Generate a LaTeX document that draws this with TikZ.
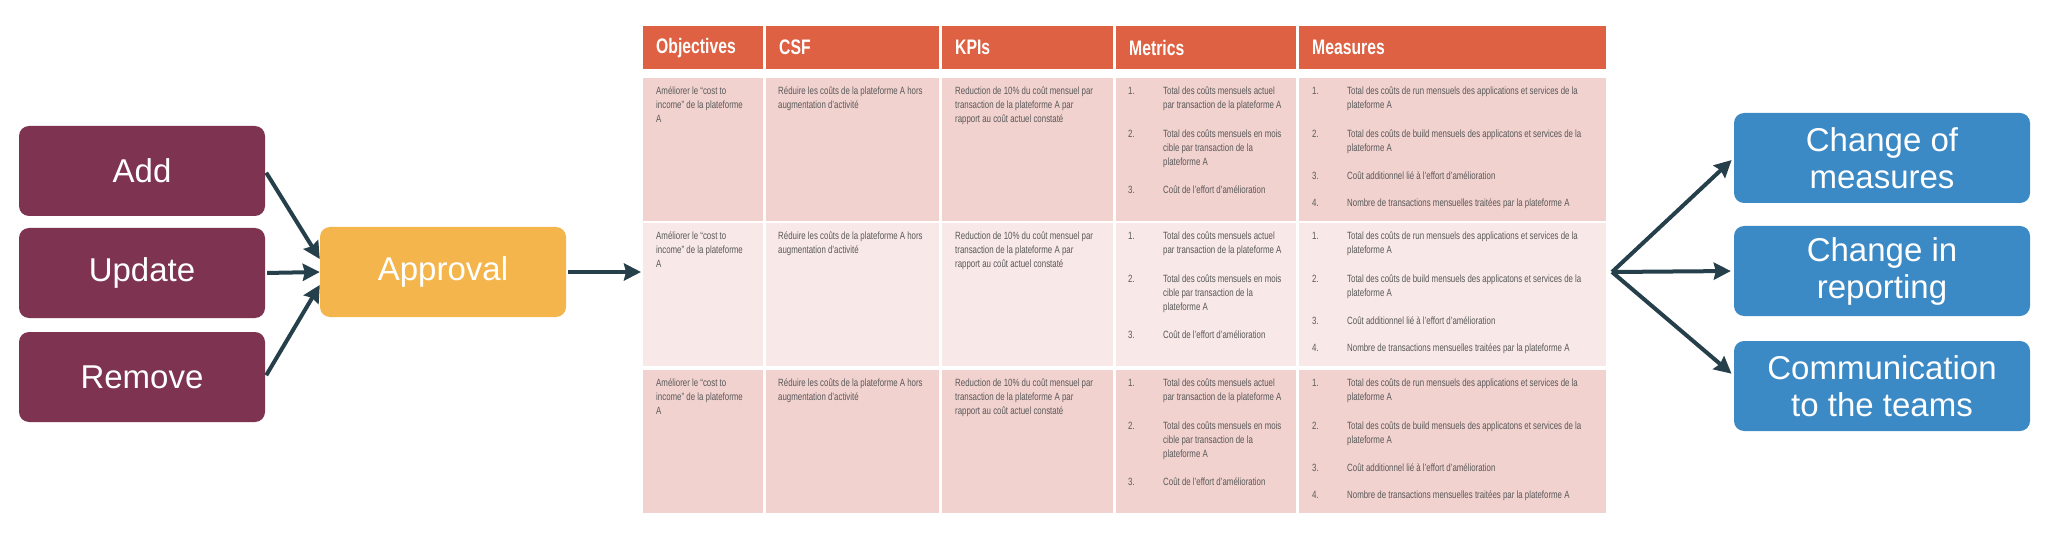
\documentclass[tikz,border=0pt]{standalone}
\usepackage{fontspec}
\setmainfont{Liberation Sans}
\newfontfamily\narrowfont[FakeStretch=0.75]{Liberation Sans}
\usetikzlibrary{arrows.meta}
\definecolor{addcol}{HTML}{7E3350}
\definecolor{okcol}{HTML}{F4B64C}
\definecolor{outcol}{HTML}{3B89C5}
\definecolor{headcol}{HTML}{DD6142}
\definecolor{rowa}{HTML}{F1D2CF}
\definecolor{rowb}{HTML}{F8E8E7}
\definecolor{arrcol}{HTML}{253F4B}
\begin{document}
\begin{tikzpicture}[x=1pt,y=-1pt,>={Stealth[length=17pt,width=17pt,inset=2pt]}]
\tikzstyle{box}=[rounded corners=10pt,minimum width=246pt,minimum height=90pt,inner sep=0pt,align=center,text=white,font=\fontsize{33}{37}\selectfont]
\tikzstyle{link}=[->,line width=4pt,draw=arrcol]
\tikzstyle{head}=[fill=headcol,minimum height=43pt,anchor=north west,inner sep=0pt]
\tikzstyle{headtext}=[anchor=west,inner sep=0pt,text=white,font=\narrowfont\bfseries\fontsize{21}{25}\selectfont]
\tikzstyle{cell}=[minimum height=143pt,anchor=north west,inner sep=0pt]
\tikzstyle{small}=[anchor=north west,align=left,inner sep=0pt,text=black!65,font=\narrowfont\fontsize{10.5}{14}\selectfont]
    \useasboundingbox (0,0) rectangle (2048,548);
    \node[box,fill=addcol] (add) at (142,171) {Add};
    \node[box,fill=addcol] (update) at (142,273) {Update};
    \node[box,fill=addcol] (remove) at (142,377) {Remove};
    \node[box,fill=okcol] (approval) at (443,272) {Approval};
    \node[box,fill=outcol,minimum width=296pt] (measures) at (1882,158) {Change of\\measures};
    \node[box,fill=outcol,minimum width=296pt] (reporting) at (1882,271) {Change in\\reporting};
    \node[box,fill=outcol,minimum width=296pt] (teams) at (1882,386) {Communication\\to the teams};
    \coordinate (tin) at (641,272);
    \coordinate (fan) at (1612,272);
    % table header
    \foreach \cx/\cw/\ct [count=\ci] in {643/120/Objectives,766/173/CSF,942/171/KPIs,1116/180/Metrics,1299/307/Measures} {
        \node[head,minimum width=\cw] (h\ci) at (\cx,26) {};
        \node[headtext] (t\ci) at ([xshift=13pt]h\ci.west) {\ct};
    }
    % table rows
    \foreach \ry/\rc [count=\ri] in {78/rowa,223/rowb,370/rowa} {
        \foreach \cx/\cw [count=\ci] in {643/120,766/173,942/171,1116/180,1299/307}
            \node[cell,fill=\rc,minimum width=\cw] (c\ri-\ci) at (\cx,\ry) {};
        \node[small] (obj\ri) at ([shift={(13,9)}]c\ri-1.north west) {Améliorer le “cost to\\income” de la plateforme\\A};
        \node[small] (csf\ri) at ([shift={(12,9)}]c\ri-2.north west) {Réduire les coûts de la plateforme A hors\\augmentation d’activité};
        \node[small] (kpi\ri) at ([shift={(13,9)}]c\ri-3.north west) {Reduction de 10\% du coût mensuel par\\transaction de la plateforme A par\\rapport au coût actuel constaté};
        \foreach \mi/\md/\mt in {1/9/{Total des coûts mensuels actuel\\par transaction de la plateforme A},
                                 2/52/{Total des coûts mensuels en mois\\cible par transaction de la\\plateforme A},
                                 3/108/{Coût de l’effort d’amélioration}} {
            \node[small] (metn\ri-\mi) at ([shift={(12,\md)}]c\ri-4.north west) {\mi.};
            \node[small] (mett\ri-\mi) at ([shift={(47,\md)}]c\ri-4.north west) {\mt};
        }
        \foreach \mi/\md/\mt in {1/9/{Total des coûts de run mensuels des applications et services de la\\plateforme A},
                                 2/52/{Total des coûts de build mensuels des applicatons et services de la\\plateforme A},
                                 3/94/{Coût additionnel lié à l’effort d’amélioration},
                                 4/121/{Nombre de transactions mensuelles traitées par la plateforme A}} {
            \node[small] (mesn\ri-\mi) at ([shift={(13,\md)}]c\ri-5.north west) {\mi.};
            \node[small] (mest\ri-\mi) at ([shift={(48,\md)}]c\ri-5.north west) {\mt};
        }
    }
    \draw[link,shorten <=2pt] (add.east) -- (approval.174);
    \draw[link,shorten <=2pt] (update.east) -- (approval.west);
    \draw[link,shorten <=2pt] (remove.east) -- (approval.186);
    \draw[link,shorten <=2pt] (approval.east) -- (tin);
    \draw[link,shorten >=3pt] (fan) -- (measures.west);
    \draw[link,shorten >=3pt] (fan) -- (reporting.west);
    \draw[link,shorten >=3pt] (fan) -- (teams.176);
\end{tikzpicture}
\end{document}
